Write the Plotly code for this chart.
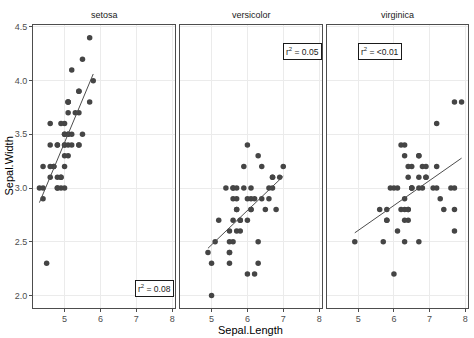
import numpy as np
import plotly.graph_objects as go

species = ["setosa", "versicolor", "virginica"]

setosa_length = [5.1, 4.9, 4.7, 4.6, 5.0, 5.4, 4.6, 5.0, 4.4, 4.9, 5.4, 4.8, 4.8, 4.3, 5.8, 5.7, 5.4, 5.1, 5.7, 5.1,
                 5.4, 5.1, 4.6, 5.1, 4.8, 5.0, 5.0, 5.2, 5.2, 4.7, 4.8, 5.4, 5.2, 5.5, 4.9, 5.0, 5.5, 4.9, 4.4, 5.1,
                 5.0, 4.5, 4.4, 5.0, 5.1, 4.8, 5.1, 4.6, 5.3, 5.0]
setosa_width = [3.5, 3.0, 3.2, 3.1, 3.6, 3.9, 3.4, 3.4, 2.9, 3.1, 3.7, 3.4, 3.0, 3.0, 4.0, 4.4, 3.9, 3.5, 3.8, 3.8,
                3.4, 3.7, 3.6, 3.3, 3.4, 3.0, 3.4, 3.5, 3.4, 3.2, 3.1, 3.4, 4.1, 4.2, 3.1, 3.2, 3.5, 3.6, 3.0, 3.4,
                3.5, 2.3, 3.2, 3.5, 3.8, 3.0, 3.8, 3.2, 3.7, 3.3]

versicolor_length = [7.0, 6.4, 6.9, 5.5, 6.5, 5.7, 6.3, 4.9, 6.6, 5.2, 5.0, 5.9, 6.0, 6.1, 5.6, 6.7, 5.6, 5.8, 6.2, 5.6,
                     5.9, 6.1, 6.3, 6.1, 6.4, 6.6, 6.8, 6.7, 6.0, 5.7, 5.5, 5.5, 5.8, 6.0, 5.4, 6.0, 6.7, 6.3, 5.6, 5.5,
                     5.5, 6.1, 5.8, 5.0, 5.6, 5.7, 5.7, 6.2, 5.1, 5.7]
versicolor_width = [3.2, 3.2, 3.1, 2.3, 2.8, 2.8, 3.3, 2.4, 2.9, 2.7, 2.0, 3.0, 2.2, 2.9, 2.9, 3.1, 3.0, 2.7, 2.2, 2.5,
                    3.2, 2.8, 2.5, 2.8, 2.9, 3.0, 2.8, 3.0, 2.9, 2.6, 2.4, 2.4, 2.7, 2.7, 3.0, 3.4, 3.1, 2.3, 3.0, 2.5,
                    2.6, 3.0, 2.6, 2.3, 2.7, 3.0, 2.9, 2.9, 2.5, 2.8]

virginica_length = [6.3, 5.8, 7.1, 6.3, 6.5, 7.6, 4.9, 7.3, 6.7, 7.2, 6.5, 6.4, 6.8, 5.7, 5.8, 6.4, 6.5, 7.7, 7.7, 6.0,
                    6.9, 5.6, 7.7, 6.3, 6.7, 7.2, 6.2, 6.1, 6.4, 7.2, 7.4, 7.9, 6.4, 6.3, 6.1, 7.7, 6.3, 6.4, 6.0, 6.9,
                    6.7, 6.9, 5.8, 6.8, 6.7, 6.7, 6.3, 6.5, 6.2, 5.9]
virginica_width = [3.3, 2.7, 3.0, 2.9, 3.0, 3.0, 2.5, 2.9, 2.5, 3.6, 3.2, 2.7, 3.0, 2.5, 2.8, 3.2, 3.0, 3.8, 2.6, 2.2,
                   3.2, 2.8, 2.8, 2.7, 3.3, 3.2, 2.8, 3.0, 2.8, 3.0, 2.8, 3.8, 2.8, 2.8, 2.6, 3.0, 3.4, 3.1, 3.0, 3.1,
                   3.1, 3.1, 2.7, 3.2, 3.3, 3.0, 2.5, 3.0, 3.4, 3.0]

r2_labels = ["r<sup>2</sup> = 0.08", "r<sup>2</sup> = 0.05", "r<sup>2</sup> = &lt;0.01"]
label_x = [7.5, 7.55, 5.6]
label_y = [2.06, 4.27, 4.27]

x_ticks = [5, 6, 7, 8]
y_ticks = [2.0, 2.5, 3.0, 3.5, 4.0, 4.5]

lengths = [setosa_length, versicolor_length, virginica_length]
widths = [setosa_width, versicolor_width, virginica_width]

W, H = 474, 338
panel_px = [(33, 175), (180, 322), (327, 468)]
y_top, y_bottom = 22, 308
y_dom = [1 - y_bottom / H, 1 - y_top / H]

FONT = "Liberation Sans, Arial, sans-serif"
BORDER = "#4d4d4d"
GRID = "#ebebeb"

fig = go.Figure()
layout = dict(
    width=W, height=H,
    margin=dict(l=0, r=0, t=0, b=0),
    paper_bgcolor="white", plot_bgcolor="white",
    showlegend=False,
    font=dict(family=FONT),
)
annotations = []

for i, sp in enumerate(species):
    xs = np.array(lengths[i])
    ys = np.array(widths[i])
    ax = "" if i == 0 else str(i + 1)
    fig.add_trace(go.Scatter(
        x=xs, y=ys, mode="markers", xaxis="x" + ax, yaxis="y" + ax,
        marker=dict(size=5.5, color="#454545"),
        hoverinfo="skip",
    ))
    # least-squares fit over the group's own range
    slope, intercept = np.polyfit(xs, ys, 1)
    fx = np.array([xs.min(), xs.max()])
    fig.add_trace(go.Scatter(
        x=fx, y=slope * fx + intercept, mode="lines", xaxis="x" + ax, yaxis="y" + ax,
        line=dict(color="#4d4d4d", width=1),
        hoverinfo="skip",
    ))
    x0, x1 = panel_px[i]
    layout["xaxis" + ax] = dict(
        domain=[x0 / W, x1 / W], range=[4.12, 8.08], anchor="y" + ax,
        tickvals=x_ticks, ticks="outside", ticklen=3, tickcolor=BORDER,
        ticklabelstandoff=-1,
        tickfont=dict(size=9, color="#4d4d4d"),
        showgrid=True, gridcolor=GRID, gridwidth=1, zeroline=False,
        showline=True, linecolor=BORDER, linewidth=1, mirror=True,
    )
    layout["yaxis" + ax] = dict(
        domain=y_dom, range=[1.88, 4.52], anchor="x" + ax,
        tickvals=y_ticks, ticktext=[f"{v:.1f}" for v in y_ticks],
        ticks="outside" if i == 0 else "", ticklen=3, tickcolor=BORDER,
        showticklabels=(i == 0),
        tickfont=dict(size=9, color="#4d4d4d"),
        showgrid=True, gridcolor=GRID, gridwidth=1, zeroline=False,
        showline=True, linecolor=BORDER, linewidth=1, mirror=True,
    )
    # facet strip title
    annotations.append(dict(
        text=sp, x=(x0 + x1) / 2 / W, y=1 - 12 / H, xref="paper", yref="paper",
        xanchor="center", yanchor="middle",
        showarrow=False, font=dict(size=9, color="#1a1a1a"),
    ))
    # r-squared label
    annotations.append(dict(
        text=r2_labels[i], x=label_x[i], y=label_y[i], xref="x" + ax, yref="y" + ax,
        xanchor="center", yanchor="middle",
        showarrow=False, font=dict(size=8.5, color="#1a1a1a"),
        bgcolor="white", bordercolor="#1a1a1a", borderwidth=1, borderpad=2,
    ))

annotations.append(dict(
    text="Sepal.Length", x=(panel_px[0][0] + panel_px[2][1]) / 2 / W, y=1 - 330 / H,
    xref="paper", yref="paper", xanchor="center", yanchor="middle",
    showarrow=False, font=dict(size=11, color="black"),
))
annotations.append(dict(
    text="Sepal.Width", x=9 / W, y=(1 - (y_top + y_bottom) / 2 / H),
    xref="paper", yref="paper", xanchor="center", yanchor="middle",
    showarrow=False, textangle=-90,
    font=dict(size=11, color="black"),
))
layout["annotations"] = annotations
fig.update_layout(**layout)
fig.write_html("out.html")
